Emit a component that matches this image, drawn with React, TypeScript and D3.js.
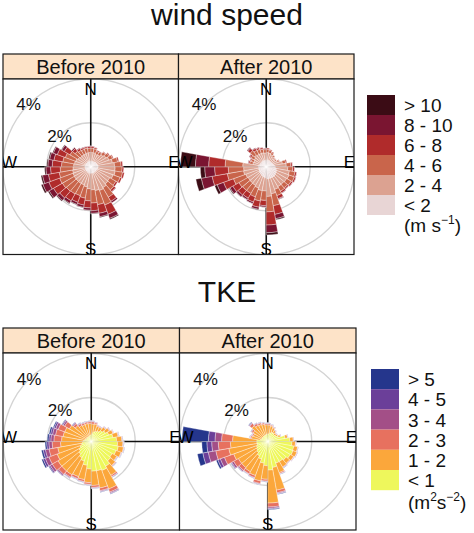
import * as d3 from "d3";

// wind direction bins (start of each 10 degree sector)
const directions = [0, 10, 20, 30, 40, 50, 60, 70, 80, 90, 100, 110, 120, 130, 140, 150, 160, 170,
  180, 190, 200, 210, 220, 230, 240, 250, 260, 270, 280, 290, 300, 310, 320, 330, 340, 350];

// frequency (%) per class, one row per direction, classes from lowest to highest
// wind speed classes: < 2, 2-4, 4-6, 6-8, 8-10, > 10
const speedBefore = [
  [0.25, 0.4, 0.2, 0.08, 0.02, 0], [0.25, 0.4, 0.18, 0.06, 0.01, 0], [0.25, 0.35, 0.15, 0.05, 0, 0],
  [0.25, 0.38, 0.14, 0.03, 0, 0], [0.28, 0.45, 0.14, 0.03, 0, 0], [0.3, 0.5, 0.16, 0.04, 0, 0],
  [0.3, 0.58, 0.18, 0.04, 0, 0], [0.32, 0.68, 0.24, 0.06, 0, 0], [0.33, 0.75, 0.3, 0.07, 0, 0],
  [0.33, 0.78, 0.32, 0.07, 0, 0], [0.33, 0.8, 0.34, 0.08, 0, 0], [0.32, 0.76, 0.34, 0.08, 0, 0],
  [0.3, 0.7, 0.32, 0.08, 0, 0], [0.3, 0.72, 0.36, 0.1, 0.02, 0], [0.3, 0.8, 0.5, 0.22, 0.08, 0],
  [0.3, 0.85, 0.7, 0.45, 0.2, 0.05], [0.3, 0.8, 0.65, 0.4, 0.16, 0.04], [0.3, 0.75, 0.6, 0.35, 0.12, 0.03],
  [0.3, 0.7, 0.55, 0.32, 0.11, 0.02], [0.28, 0.65, 0.52, 0.32, 0.11, 0.02], [0.28, 0.6, 0.52, 0.32, 0.11, 0.02],
  [0.28, 0.6, 0.55, 0.36, 0.13, 0.03], [0.27, 0.6, 0.58, 0.4, 0.16, 0.04], [0.27, 0.6, 0.62, 0.47, 0.23, 0.06],
  [0.26, 0.6, 0.65, 0.52, 0.29, 0.08], [0.26, 0.58, 0.62, 0.5, 0.27, 0.07], [0.26, 0.55, 0.58, 0.44, 0.21, 0.06],
  [0.26, 0.52, 0.55, 0.42, 0.2, 0.05], [0.25, 0.5, 0.54, 0.41, 0.2, 0.05], [0.25, 0.48, 0.5, 0.39, 0.19, 0.04],
  [0.25, 0.42, 0.42, 0.3, 0.13, 0.03], [0.25, 0.38, 0.3, 0.15, 0.06, 0.01], [0.25, 0.38, 0.24, 0.1, 0.03, 0],
  [0.25, 0.38, 0.22, 0.08, 0.02, 0], [0.25, 0.4, 0.21, 0.07, 0.02, 0], [0.25, 0.4, 0.2, 0.08, 0.02, 0],
];

const speedAfter = [
  [0.3, 0.35, 0.15, 0.05, 0, 0], [0.3, 0.33, 0.13, 0.04, 0, 0], [0.3, 0.29, 0.1, 0.03, 0, 0],
  [0.3, 0.23, 0.07, 0.02, 0, 0], [0.28, 0.2, 0.06, 0.01, 0, 0], [0.3, 0.18, 0.06, 0.01, 0, 0],
  [0.32, 0.23, 0.08, 0.02, 0, 0], [0.35, 0.4, 0.15, 0.05, 0, 0], [0.38, 0.53, 0.21, 0.07, 0.01, 0],
  [0.42, 0.56, 0.23, 0.08, 0.01, 0], [0.47, 0.6, 0.26, 0.08, 0.01, 0], [0.5, 0.6, 0.26, 0.08, 0.01, 0],
  [0.52, 0.55, 0.24, 0.08, 0.01, 0], [0.55, 0.5, 0.22, 0.07, 0.01, 0], [0.55, 0.5, 0.24, 0.09, 0.02, 0],
  [0.55, 0.55, 0.3, 0.15, 0.04, 0.01], [0.55, 0.7, 0.55, 0.4, 0.2, 0.05], [0.55, 0.8, 0.7, 0.6, 0.35, 0.1],
  [0.5, 0.6, 0.43, 0.24, 0.07, 0.01], [0.48, 0.62, 0.48, 0.29, 0.1, 0.03], [0.45, 0.58, 0.43, 0.25, 0.08, 0.01],
  [0.42, 0.56, 0.42, 0.25, 0.08, 0.02], [0.4, 0.57, 0.44, 0.27, 0.1, 0.02], [0.38, 0.58, 0.48, 0.32, 0.15, 0.04],
  [0.36, 0.63, 0.6, 0.48, 0.31, 0.12], [0.35, 0.7, 0.75, 0.7, 0.5, 0.25], [0.35, 0.68, 0.7, 0.62, 0.45, 0.2],
  [0.35, 0.72, 0.8, 0.75, 0.6, 0.68], [0.3, 0.32, 0.15, 0.06, 0.02, 0], [0.3, 0.3, 0.13, 0.05, 0.02, 0],
  [0.3, 0.33, 0.17, 0.07, 0.03, 0], [0.3, 0.4, 0.26, 0.13, 0.05, 0.01], [0.3, 0.36, 0.21, 0.1, 0.03, 0],
  [0.3, 0.35, 0.2, 0.08, 0.02, 0], [0.3, 0.35, 0.17, 0.07, 0.01, 0], [0.3, 0.33, 0.15, 0.06, 0.01, 0],
];

// TKE classes: < 1, 1-2, 2-3, 3-4, 4-5, > 5
const tkeBefore = [
  [0.35, 0.45, 0.1, 0.03, 0.01, 0.01], [0.45, 0.36, 0.06, 0.02, 0.01, 0], [0.5, 0.24, 0.04, 0.01, 0.01, 0],
  [0.55, 0.2, 0.03, 0.01, 0.01, 0], [0.65, 0.2, 0.03, 0.01, 0.01, 0], [0.75, 0.2, 0.03, 0.01, 0.01, 0],
  [0.85, 0.2, 0.03, 0.01, 0.01, 0], [1.0, 0.24, 0.03, 0.01, 0.01, 0.01], [1.15, 0.24, 0.03, 0.01, 0.01, 0.01],
  [1.2, 0.24, 0.03, 0.01, 0.01, 0.01], [1.25, 0.24, 0.03, 0.01, 0.01, 0.01], [1.2, 0.24, 0.03, 0.01, 0.01, 0.01],
  [1.1, 0.24, 0.03, 0.01, 0.01, 0.01], [1.15, 0.28, 0.04, 0.01, 0.01, 0.01], [1.3, 0.48, 0.07, 0.02, 0.02, 0.01],
  [1.4, 0.9, 0.15, 0.05, 0.03, 0.02], [1.35, 0.8, 0.12, 0.04, 0.02, 0.02], [1.35, 0.65, 0.09, 0.03, 0.02, 0.01],
  [1.25, 0.62, 0.08, 0.03, 0.01, 0.01], [1.1, 0.66, 0.09, 0.03, 0.01, 0.01], [0.95, 0.75, 0.1, 0.03, 0.01, 0.01],
  [0.85, 0.9, 0.13, 0.04, 0.02, 0.01], [0.75, 1.0, 0.2, 0.06, 0.03, 0.01], [0.65, 1.1, 0.3, 0.11, 0.06, 0.03],
  [0.55, 1.1, 0.4, 0.18, 0.1, 0.07], [0.45, 1.1, 0.4, 0.17, 0.1, 0.08], [0.4, 1.0, 0.38, 0.15, 0.1, 0.07],
  [0.35, 1.0, 0.35, 0.14, 0.09, 0.07], [0.3, 1.0, 0.35, 0.14, 0.09, 0.07], [0.28, 1.0, 0.32, 0.12, 0.08, 0.05],
  [0.25, 0.9, 0.25, 0.08, 0.05, 0.02], [0.25, 0.7, 0.12, 0.04, 0.03, 0.01], [0.25, 0.6, 0.09, 0.03, 0.02, 0.01],
  [0.25, 0.57, 0.08, 0.03, 0.01, 0.01], [0.28, 0.55, 0.08, 0.02, 0.01, 0.01], [0.3, 0.52, 0.08, 0.03, 0.01, 0.01],
];

const tkeAfter = [
  [0.35, 0.4, 0.06, 0.02, 0.01, 0.01], [0.4, 0.32, 0.05, 0.01, 0.01, 0.01], [0.45, 0.22, 0.03, 0.01, 0.01, 0],
  [0.45, 0.13, 0.02, 0.01, 0.01, 0], [0.42, 0.1, 0.01, 0.01, 0.01, 0], [0.44, 0.08, 0.01, 0.01, 0.01, 0],
  [0.52, 0.1, 0.01, 0.01, 0.01, 0], [0.8, 0.12, 0.01, 0.01, 0.01, 0], [1.0, 0.16, 0.02, 0.01, 0.01, 0],
  [1.1, 0.16, 0.02, 0.01, 0.01, 0], [1.2, 0.18, 0.02, 0.01, 0.01, 0], [1.22, 0.19, 0.02, 0.01, 0.01, 0],
  [1.18, 0.18, 0.02, 0.01, 0.01, 0], [1.1, 0.2, 0.03, 0.01, 0.01, 0], [1.05, 0.29, 0.03, 0.01, 0.01, 0.01],
  [1.05, 0.46, 0.05, 0.02, 0.01, 0.01], [1.2, 1.05, 0.12, 0.04, 0.02, 0.02], [1.3, 1.5, 0.18, 0.06, 0.03, 0.03],
  [1.1, 0.62, 0.08, 0.03, 0.01, 0.01], [1.0, 0.82, 0.12, 0.04, 0.01, 0.01], [0.85, 0.8, 0.1, 0.03, 0.01, 0.01],
  [0.75, 0.84, 0.11, 0.03, 0.01, 0.01], [0.65, 0.9, 0.17, 0.05, 0.02, 0.01], [0.6, 0.95, 0.25, 0.09, 0.04, 0.02],
  [0.55, 1.1, 0.45, 0.2, 0.12, 0.08], [0.5, 1.3, 0.6, 0.35, 0.25, 0.25], [0.5, 1.2, 0.55, 0.3, 0.22, 0.23],
  [0.5, 1.1, 0.5, 0.3, 0.3, 1.2], [0.35, 0.4, 0.06, 0.02, 0.01, 0.01], [0.3, 0.4, 0.06, 0.02, 0.01, 0.01],
  [0.3, 0.47, 0.08, 0.03, 0.01, 0.01], [0.3, 0.65, 0.12, 0.04, 0.02, 0.02], [0.3, 0.56, 0.09, 0.03, 0.01, 0.01],
  [0.3, 0.53, 0.08, 0.02, 0.01, 0.01], [0.32, 0.48, 0.07, 0.01, 0.01, 0.01], [0.33, 0.43, 0.06, 0.01, 0.01, 0.01],
];

const periods = ["Before 2010", "After 2010"];
const ringValues = [2, 4];
const compass = ["N", "E", "S", "W"];

const speedColors = ["#e8d5d5", "#dca291", "#c9654b", "#b02b2b", "#7a1531", "#3b0c15"];
const speedLabels = ["< 2", "2 - 4", "4 - 6", "6 - 8", "8 - 10", "> 10"];
const tkeColors = ["#eef75c", "#fba73b", "#e7715f", "#a34f87", "#6b3f99", "#25368c"];
const tkeLabels = ["< 1", "1 - 2", "2 - 3", "3 - 4", "4 - 5", "> 5"];

const FONT = "'Liberation Sans', Arial, Helvetica, sans-serif";

function Facet({ id, left, top, w, h, stripH, label, rows, colors, rPer4 }) {
  const cx = left + w / 2;
  const panelTop = top + stripH;
  const cy = panelTop + h / 2;
  const r = d3.scaleLinear().domain([0, 4]).range([0, rPer4]);
  const arc = d3.arc();

  const segs = [];
  rows.forEach((row, i) => {
    let cum = 0;
    row.forEach((v, k) => {
      if (v > 0) {
        segs.push({
          d: arc({
            innerRadius: r(cum),
            outerRadius: r(cum + v),
            startAngle: (directions[i] * Math.PI) / 180,
            endAngle: ((directions[i] + 10) * Math.PI) / 180,
          }),
          fill: colors[k],
        });
      }
      cum += v;
    });
  });

  const lab = (-45 * Math.PI) / 180;

  return (
    <g>
      <rect x={left} y={top} width={w} height={stripH} fill="#fde3c8" stroke="#1a1a1a" strokeWidth={1.2} />
      <text x={cx} y={top + stripH - 5} textAnchor="middle" fontSize={20} fontFamily={FONT} fill="#111">
        {label}
      </text>
      <clipPath id={id}>
        <rect x={left} y={panelTop} width={w} height={h} />
      </clipPath>
      <g clipPath={`url(#${id})`}>
        <rect x={left} y={panelTop} width={w} height={h} fill="#fff" />
        {ringValues.map((v) => (
          <circle key={v} cx={cx} cy={cy} r={r(v)} fill="none" stroke="#d4d4d4" strokeWidth={1.3} />
        ))}
        <line x1={cx} x2={cx} y1={panelTop} y2={panelTop + h} stroke="#111" strokeWidth={1.6} />
        <line x1={left} x2={left + w} y1={cy} y2={cy} stroke="#111" strokeWidth={1.6} />
        <g transform={`translate(${cx},${cy})`}>
          {segs.map((s, i) => (
            <path key={i} d={s.d} fill={s.fill} stroke="#ffffff" strokeWidth={0.5} strokeOpacity={0.7} />
          ))}
        </g>
        {ringValues.map((v) => (
          <text key={v} x={cx + r(v) * Math.sin(lab)} y={cy - r(v) * Math.cos(lab)} dy="0.35em"
            textAnchor="middle" fontSize={17} fontFamily={FONT} fill="#111">
            {v}%
          </text>
        ))}
        <text x={cx} y={panelTop + 16} textAnchor="middle" fontSize={17} fontFamily={FONT}>{compass[0]}</text>
        <text x={left + w + 1} y={cy + 1} textAnchor="end" fontSize={17} fontFamily={FONT}>{compass[1]}</text>
        <text x={cx} y={panelTop + h} textAnchor="middle" fontSize={17} fontFamily={FONT}>{compass[2]}</text>
        <text x={left - 2} y={cy + 1} textAnchor="start" fontSize={17} fontFamily={FONT}>{compass[3]}</text>
      </g>
      <rect x={left} y={panelTop} width={w} height={h} fill="none" stroke="#1a1a1a" strokeWidth={1.2} />
    </g>
  );
}

function Legend({ x, y, boxW, boxH, colors, labels, unit, unitDy }) {
  const idx = d3.range(colors.length).reverse();
  const band = d3.scaleBand().domain(idx.map(String)).range([y, y + boxH * colors.length]);
  return (
    <g fontFamily={FONT} fontSize={19} fill="#111">
      {idx.map((k) => (
        <g key={k}>
          <rect x={x} y={band(String(k))} width={boxW} height={band.bandwidth()} fill={colors[k]} />
          <text x={x + boxW + 9} y={band(String(k)) + band.bandwidth() / 2 + 7}>{labels[k]}</text>
        </g>
      ))}
      <text x={x + boxW + 9} y={y + boxH * colors.length + unitDy}>{unit}</text>
    </g>
  );
}

function Chart({ id, title, titleY, top, w, h, rows, colors, labels, legendX, legendY, boxH, unit, unitDy }) {
  const left = 3;
  const stripH = 25;
  return (
    <g>
      <text x={227} y={titleY} textAnchor="middle" fontSize={30} fontFamily={FONT} fill="#111">{title}</text>
      {periods.map((p, i) => (
        <Facet key={p} id={`${id}-${i}`} left={left + i * w} top={top} w={w} h={h} stripH={stripH}
          label={p} rows={rows[i]} colors={colors} rPer4={88} />
      ))}
      <Legend x={legendX} y={legendY} boxW={28} boxH={boxH} colors={colors} labels={labels}
        unit={unit} unitDy={unitDy} />
    </g>
  );
}

export default function App() {
  const speedUnit = (
    <>
      (m s<tspan dy={-8} fontSize={12}>−1</tspan><tspan dy={8}>)</tspan>
    </>
  );
  const tkeUnit = (
    <>
      (m<tspan dy={-8} fontSize={12}>2</tspan><tspan dy={8}>s</tspan>
      <tspan dy={-8} fontSize={12}>−2</tspan><tspan dy={8}>)</tspan>
    </>
  );
  return (
    <svg width={474} height={533} style={{ position: "absolute", left: 0, top: 0, background: "#fff" }}>
      <rect width={474} height={533} fill="#fff" />
      <Chart id="ws" title="wind speed" titleY={25} top={54} w={175.5} h={175.5}
        rows={[speedBefore, speedAfter]} colors={speedColors} labels={speedLabels}
        legendX={367} legendY={95} boxH={20} unit={speedUnit} unitDy={17} />
      <Chart id="tke" title="TKE" titleY={302} top={328} w={176.5} h={177}
        rows={[tkeBefore, tkeAfter]} colors={tkeColors} labels={tkeLabels}
        legendX={371} legendY={369} boxH={20.2} unit={tkeUnit} unitDy={19} />
    </svg>
  );
}
